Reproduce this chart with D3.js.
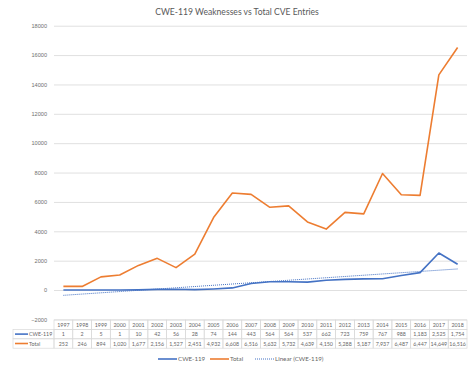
<!DOCTYPE html>
<html lang="en">
<head>
    <meta charset="UTF-8">
    <title>CWE-119 Weaknesses vs Total CVE Entries</title>
    <script src="https://d3js.org/d3.v7.min.js"></script>
    <style>
        body { margin: 0; background: #fff; }
        svg { font-family: Lato, "Open Sans", sans-serif; }
        .gridlines .domain { display: none; }
        .gridlines line { stroke: #e0e0e0; }
        .y.axis .domain, .y.axis line { display: none; }
        .y.axis text { fill: #707070; font-size: 5.6px; }
        .cell { fill: none; stroke: #d9d9d9; stroke-width: 0.7px; }
        .tbl { fill: #666; font-size: 5.3px; }
        .legend text { fill: #666; font-size: 6.2px; }
    </style>
</head>
<body>
    <svg id="chart" width="474" height="369"></svg>
    <script>
        // data
        const years = ['1997', '1998', '1999', '2000', '2001', '2002', '2003', '2004', '2005', '2006', '2007',
            '2008', '2009', '2010', '2011', '2012', '2013', '2014', '2015', '2016', '2017', '2018'];
        const cwe119 = [1, 2, 5, 1, 10, 42, 56, 28, 74, 144, 443, 564, 564, 537, 662, 723, 759, 767, 988, 1183, 2525, 1754];
        const total = [252, 246, 894, 1020, 1677, 2156, 1527, 2451, 4932, 6608, 6516, 5632, 5732, 4639, 4150, 5288,
            5187, 7937, 6487, 6447, 14649, 16516];
        // Excel linear trendline for CWE-119, value at first and last year
        const trendEnds = [-360, 1436];
        const yTicks = [-2000, 0, 2000, 4000, 6000, 8000, 10000, 12000, 14000, 16000, 18000];

        const blue = '#4472C4';
        const orange = '#ED7D31';

        const svg = d3.select('#chart');
        const plot = { left: 54, right: 467, top: 25.7, bottom: 319.4 };

        const x = d3.scaleBand().domain(years).range([plot.left, plot.right]);
        const y = d3.scaleLinear().domain([-2000, 18000]).range([plot.bottom, plot.top]);
        const cx = d => x(d) + x.bandwidth() / 2;

        // title
        svg.append('text')
            .attr('x', 237).attr('y', 15)
            .attr('text-anchor', 'middle')
            .attr('fill', '#595959')
            .style('font-size', '8.6px')
            .text('CWE-119 Weaknesses vs Total CVE Entries');

        // gridlines
        svg.append('g')
            .attr('class', 'gridlines')
            .attr('transform', `translate(${plot.left},0)`)
            .call(d3.axisLeft(y).tickValues(yTicks).tickSize(-(plot.right - plot.left)).tickFormat(''));

        svg.append('g')
            .attr('class', 'y axis')
            .attr('transform', `translate(${plot.left - 4},0)`)
            .call(d3.axisLeft(y).tickValues(yTicks).tickSize(0).tickFormat(d3.format('d')));

        let line = d3.line().x((d, i) => cx(years[i])).y(d => y(d));

        // trendline
        svg.append('path')
            .datum(trendEnds)
            .attr('fill', 'none')
            .attr('stroke', blue)
            .attr('stroke-width', 1)
            .attr('stroke-dasharray', '1,1')
            .attr('d', d3.line().x((d, i) => cx(years[i * (years.length - 1)])).y(d => y(d)));

        svg.append('path')
            .datum(total)
            .attr('fill', 'none')
            .attr('stroke', orange)
            .attr('stroke-width', 1.6)
            .attr('stroke-linejoin', 'round')
            .attr('d', line);

        svg.append('path')
            .datum(cwe119)
            .attr('fill', 'none')
            .attr('stroke', blue)
            .attr('stroke-width', 1.6)
            .attr('stroke-linejoin', 'round')
            .attr('d', line);

        // data table
        const rowH = 9.4;
        const t0 = 320;
        const table = svg.append('g').attr('class', 'table');
        const rows = [
            { name: null, vals: years, color: null },
            { name: 'CWE-119', vals: cwe119.map(d3.format(',')), color: blue },
            { name: 'Total', vals: total.map(d3.format(',')), color: orange }
        ];
        rows.forEach((r, ri) => {
            let top = t0 + ri * rowH;
            years.forEach((yr, i) => {
                table.append('rect').attr('class', 'cell')
                    .attr('x', x(yr)).attr('y', top)
                    .attr('width', x.bandwidth()).attr('height', rowH);
                table.append('text').attr('class', 'tbl')
                    .attr('x', cx(yr)).attr('y', top + rowH / 2 + 2)
                    .attr('text-anchor', 'middle')
                    .text(r.vals[i]);
            });
            if (r.name) {
                table.append('rect').attr('class', 'cell')
                    .attr('x', 13).attr('y', top)
                    .attr('width', plot.left - 13).attr('height', rowH);
                table.append('line')
                    .attr('x1', 15).attr('x2', 28)
                    .attr('y1', top + rowH / 2).attr('y2', top + rowH / 2)
                    .attr('stroke', r.color).attr('stroke-width', 1.6);
                table.append('text').attr('class', 'tbl')
                    .attr('x', 29).attr('y', top + rowH / 2 + 2)
                    .text(r.name);
            }
        });

        // legend
        const legend = svg.append('g').attr('class', 'legend');
        const items = [
            { name: 'CWE-119', color: blue, x: 158, dash: null, w: 1.6 },
            { name: 'Total', color: orange, x: 210, dash: null, w: 1.6 },
            { name: 'Linear (CWE-119)', color: blue, x: 255, dash: '1,1', w: 1 }
        ];
        items.forEach(it => {
            legend.append('line')
                .attr('x1', it.x).attr('x2', it.x + 19)
                .attr('y1', 359).attr('y2', 359)
                .attr('stroke', it.color).attr('stroke-width', it.w)
                .attr('stroke-dasharray', it.dash);
            legend.append('text')
                .attr('x', it.x + 20).attr('y', 361.2)
                .text(it.name);
        });
    </script>
</body>
</html>
